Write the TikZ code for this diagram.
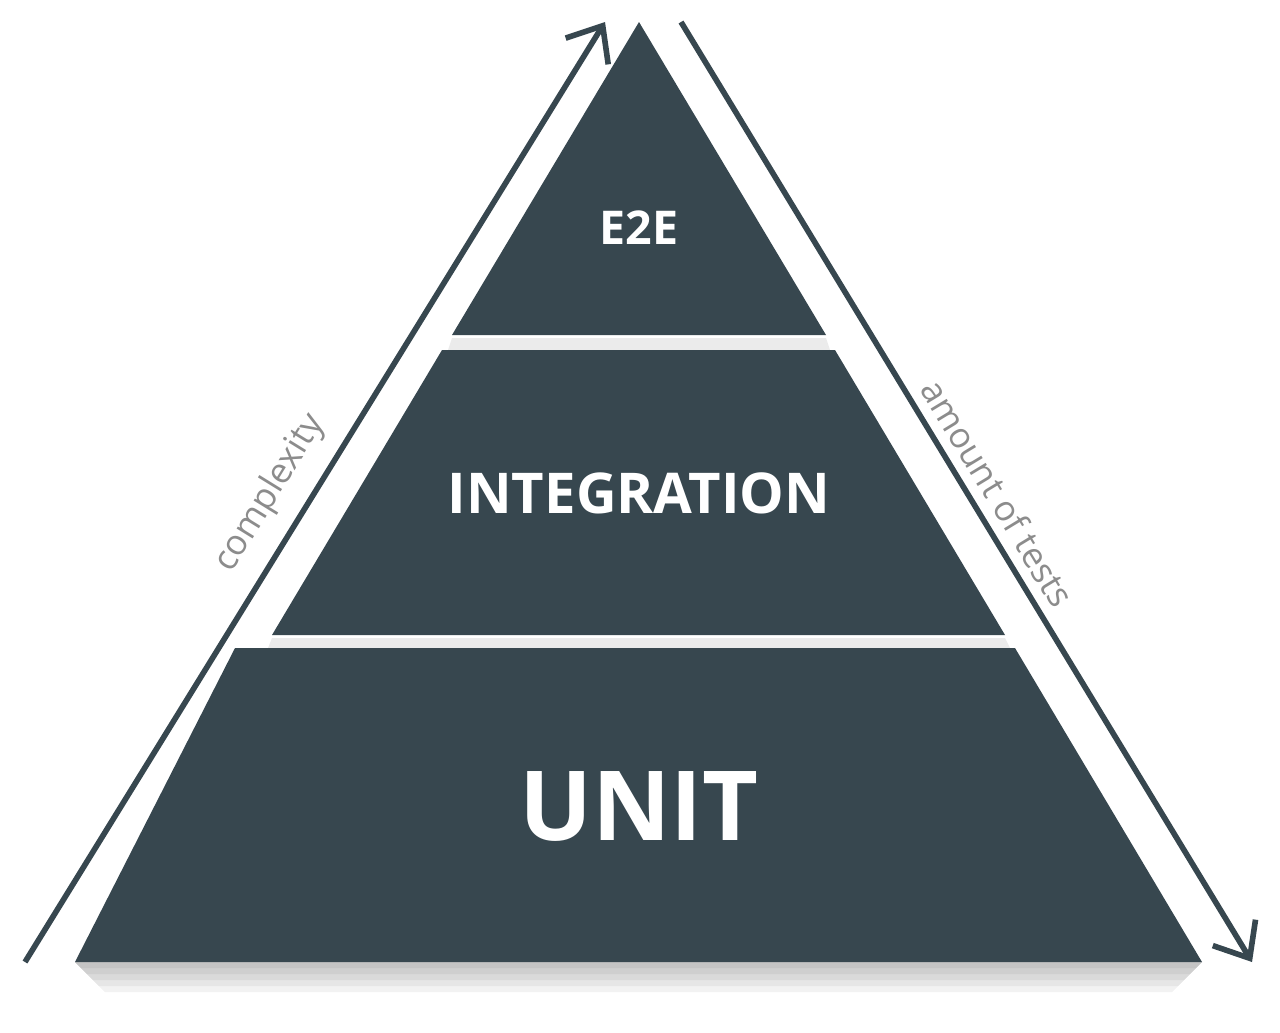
\documentclass[tikz,border=0pt]{standalone}
\usepackage{fontspec}
\setmainfont{Open Sans}
\usetikzlibrary{arrows.meta}
\definecolor{slate}{HTML}{37474F}
\tikzset{
  tier/.style={fill=slate},
  tiershadow/.style={fill=black, opacity=0.08},
  tierlabel/.style={text=white, font=\bfseries},
  sidearrow/.style={draw=slate, line width=3.2pt, -{Straight Barb[length=0.6cm, width=1.0cm, line width=3.2pt]}},
  sidelabel/.style={text=gray!90, font=\fontsize{20}{24}\selectfont}
}
\begin{document}
\begin{tikzpicture}[x=0.02cm, y=-0.02cm]
  \useasboundingbox (0,0) rectangle (1280,1032);

  % shadows
  \fill[tiershadow] (452,338) -- (826,338) -- (830,350) -- (448,350) -- cycle;
  \fill[tiershadow] (272,638) -- (1005,638) -- (1010,648) -- (268,648) -- cycle;
  \foreach \d in {6,12,...,30}
    \fill[tiershadow, opacity=0.05] (75,962) -- (1202,962) -- (1202-\d,962+\d) -- (75+\d,962+\d) -- cycle;

  % tiers
  \fill[tier] (639,22) -- (826,335) -- (452,335) -- cycle;
  \fill[tier] (442,350) -- (835,350) -- (1005,635) -- (272,635) -- cycle;
  \fill[tier] (235,648) -- (1015,648) -- (1202,962) -- (75,962) -- cycle;

  \node[tierlabel, font=\bfseries\fontsize{26.5}{30}\selectfont] (e2e) at (639,228) {E2E};
  \node[tierlabel, font=\bfseries\fontsize{32}{38}\selectfont] (integration) at (639,493) {INTEGRATION};
  \node[tierlabel, font=\bfseries\fontsize{55}{62}\selectfont] (unit) at (639,806) {UNIT};

  % side arrows
  \coordinate (cfrom) at (25,962);
  \coordinate (cto) at (605,22);
  \coordinate (afrom) at (681,22);
  \coordinate (ato) at (1252,962);
  \draw[sidearrow] (cfrom) -- (cto);
  \draw[sidearrow] (afrom) -- (ato);

  \node[sidelabel, rotate=58.3] (complexity) at (270,493) {complexity};
  \node[sidelabel, rotate=-58.7] (amount) at (998,493) {amount of tests};
\end{tikzpicture}
\end{document}
